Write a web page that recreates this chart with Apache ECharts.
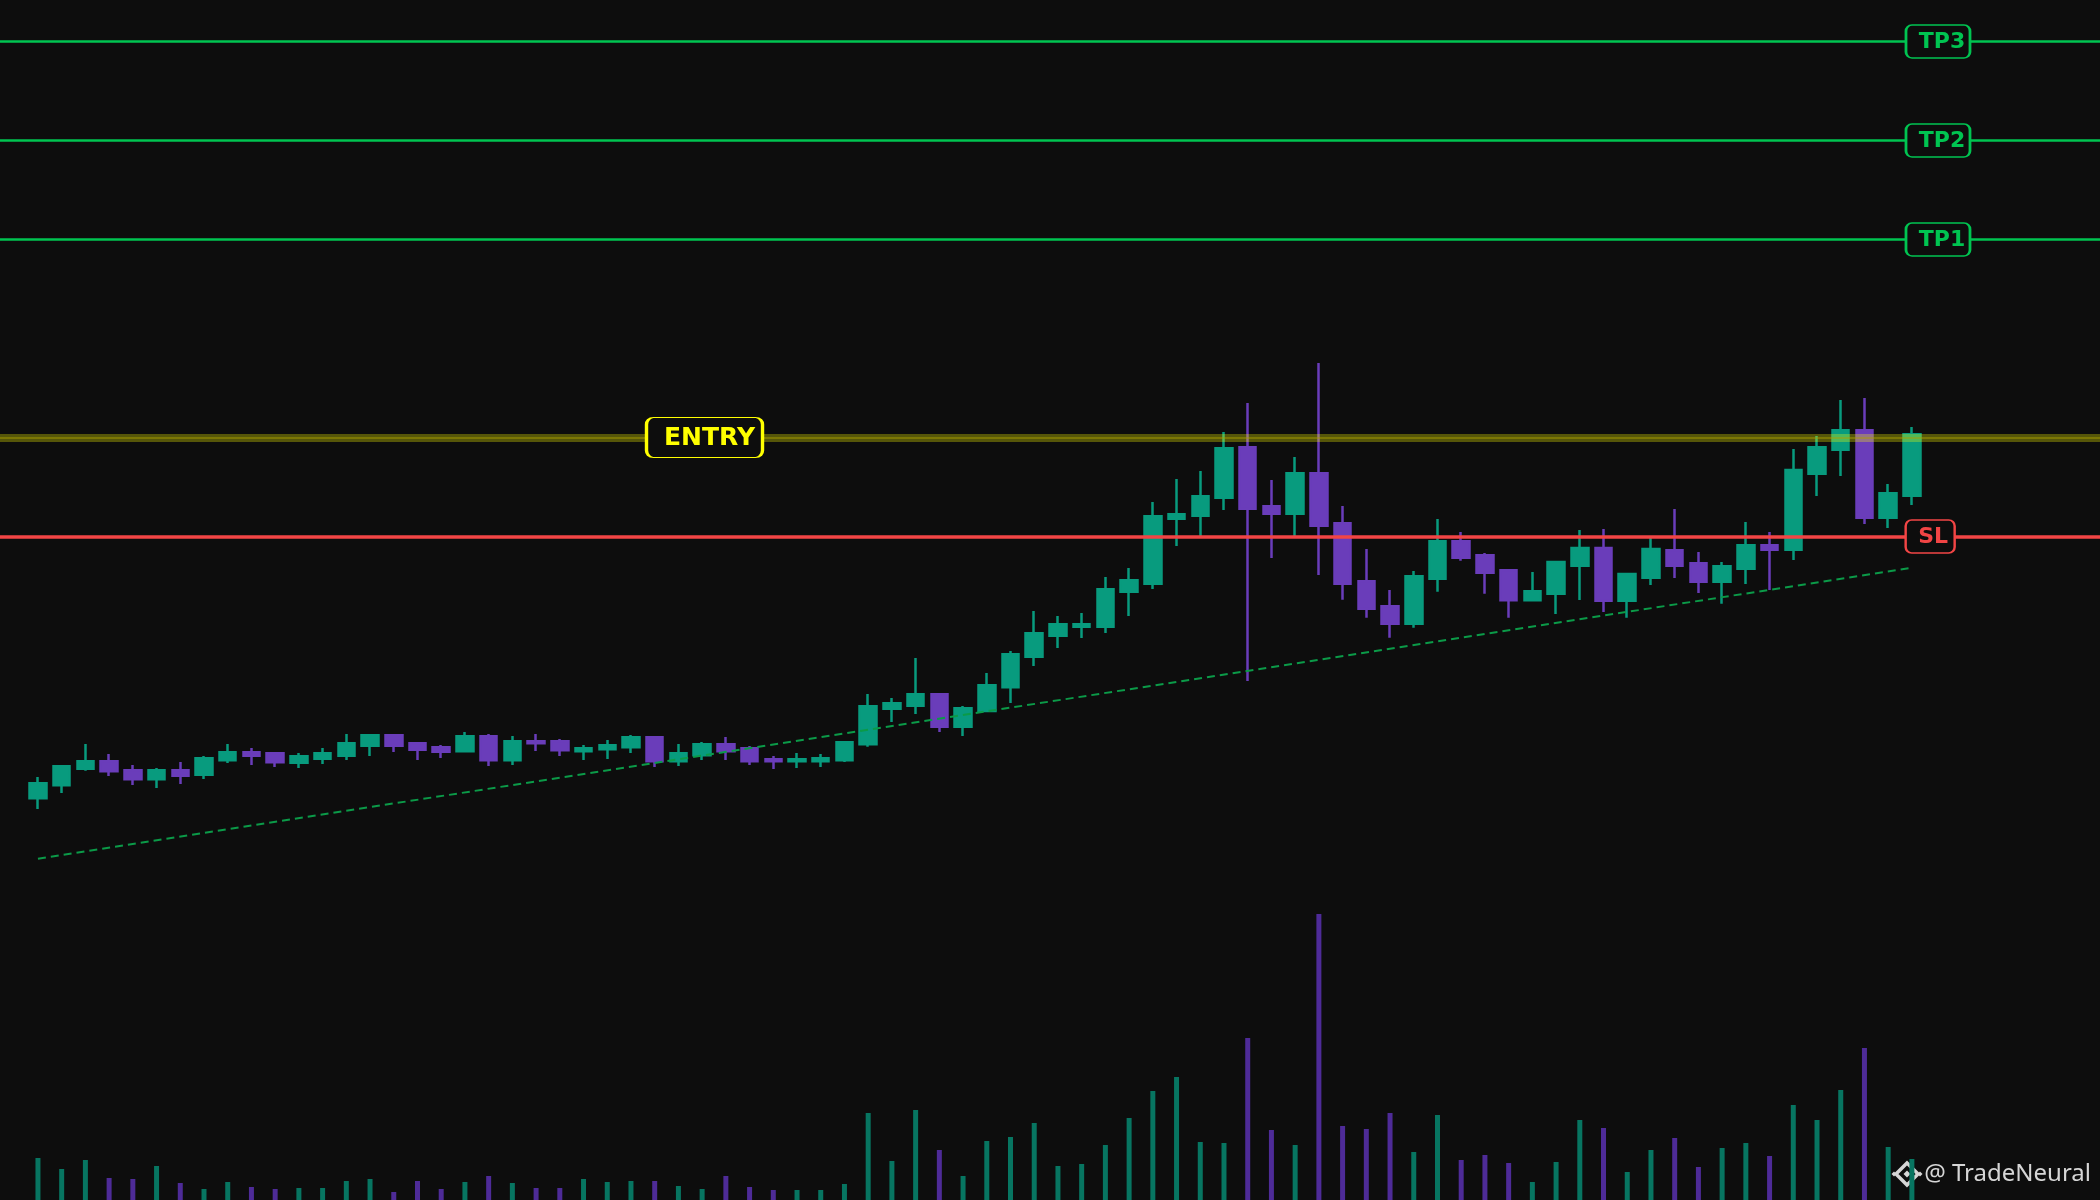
<!DOCTYPE html>
<html>
<head>
<meta charset="utf-8">
<script src="https://cdn.jsdelivr.net/npm/echarts@6/dist/echarts.min.js"></script>
<style>
html, body { margin: 0; padding: 0; background: #0d0d0d; }
#chart { width: 2100px; height: 1200px; }
</style>
</head>
<body>
<div id="chart"></div>
<script>
/** 数据 */
var opens = [40.17, 41.47, 43.13, 43.87, 42.97, 42.07, 42.97, 42.53, 43.97, 44.77,
    44.67, 43.73, 44.13, 44.43, 45.43, 46.47, 45.67, 45.27, 44.87, 46.37,
    43.97, 45.87, 45.87, 44.87, 45.07, 45.27, 46.27, 43.87, 44.47, 45.57,
    45.17, 44.07, 43.87, 43.87, 43.97, 45.57, 49.13, 49.43, 50.57, 47.33,
    48.90, 51.27, 54.33, 56.43, 57.33, 57.33, 60.83, 61.63, 68.13, 68.43,
    70.23, 75.27, 69.37, 68.63, 72.67, 67.67, 61.87, 59.37, 57.63, 62.13,
    65.87, 64.47, 62.97, 59.97, 60.63, 63.43, 65.20, 59.93, 62.23, 64.97,
    63.67, 61.83, 63.13, 65.47, 65.03, 72.63, 75.03, 76.97, 68.23, 70.43];
var closes = [41.67, 43.37, 43.87, 42.87, 42.07, 42.97, 42.43, 44.17, 44.77, 44.43,
    43.77, 44.37, 44.67, 45.67, 46.47, 45.43, 45.03, 44.83, 46.37, 43.97,
    45.87, 45.67, 44.97, 45.17, 45.47, 46.27, 43.87, 44.67, 45.57, 44.87,
    43.87, 43.87, 44.07, 44.17, 45.77, 49.37, 49.67, 50.57, 47.33, 49.17,
    51.47, 54.57, 56.67, 57.57, 57.57, 61.07, 61.97, 68.37, 68.57, 70.37,
    75.17, 69.13, 68.63, 72.67, 67.43, 61.63, 59.13, 57.63, 62.37, 65.87,
    64.23, 62.73, 59.97, 60.87, 63.80, 65.20, 59.93, 62.60, 65.10, 63.43,
    61.83, 63.37, 65.47, 65.03, 73.00, 75.27, 76.97, 68.23, 70.67, 76.57];
var lows = [39.10, 40.70, 42.93, 42.40, 41.50, 41.20, 41.60, 42.10, 43.70, 43.50,
    43.30, 43.20, 43.60, 44.00, 44.40, 44.80, 44.00, 44.20, 44.80, 43.40,
    43.50, 44.90, 44.40, 44.00, 44.10, 44.70, 43.30, 43.40, 44.00, 44.00,
    43.50, 43.10, 43.20, 43.30, 43.80, 45.33, 47.80, 48.60, 46.80, 46.40,
    48.80, 49.70, 53.40, 55.20, 56.20, 56.70, 58.40, 61.10, 65.40, 66.30,
    69.00, 51.90, 64.20, 66.30, 62.50, 60.03, 58.23, 56.23, 57.23, 60.83,
    63.93, 60.63, 58.23, 59.93, 58.60, 60.00, 58.80, 58.23, 61.50, 62.20,
    60.70, 59.63, 61.60, 61.00, 64.00, 70.40, 72.40, 67.60, 67.20, 69.50];
var highs = [42.30, 43.50, 45.60, 44.60, 43.50, 43.20, 43.80, 44.40, 45.60, 45.20,
    44.80, 44.70, 45.20, 46.60, 46.60, 46.60, 45.80, 45.50, 46.80, 46.60,
    46.40, 46.60, 46.10, 45.50, 46.00, 46.50, 46.40, 45.60, 45.80, 46.30,
    45.40, 44.40, 44.70, 44.60, 45.90, 50.60, 50.20, 54.20, 50.70, 49.40,
    52.70, 54.90, 58.90, 58.40, 58.70, 62.30, 63.20, 69.80, 72.10, 72.90,
    76.80, 79.70, 72.00, 74.30, 83.70, 69.40, 65.10, 61.00, 62.90, 68.10,
    66.80, 64.70, 63.00, 62.80, 63.90, 67.00, 67.10, 62.70, 66.40, 69.10,
    64.80, 63.80, 67.80, 66.80, 75.10, 76.40, 80.00, 80.20, 71.60, 77.30];
var volumes = [42, 31, 40, 22, 21, 34, 17, 11, 18, 13,
    11, 12, 12, 19, 21, 8, 19, 11, 18, 24,
    17, 12, 12, 21, 18, 19, 19, 14, 11, 24,
    13, 10, 10, 10, 16, 87, 39, 90, 50, 24,
    59, 63, 77, 34, 36, 55, 82, 109, 123, 58,
    57, 162, 70, 55, 286, 74, 71, 87, 48, 85,
    40, 45, 37, 18, 38, 80, 72, 28, 50, 62,
    33, 52, 57, 44, 95, 80, 110, 152, 53, 41];

// 交易计划
var entryPrice = 76.25;
var stopPrice = 66.35;
var tpPrices = [96.05, 105.95, 115.85];
var tpNames = ['TP1', 'TP2', 'TP3'];
// 趋势线 [index, price]
var trendStart = [0, 34.13];
var trendEnd = [79, 63.23];

/** 颜色 */
var UP = '#089b7e', DOWN = '#6a3dba';
var VOL_UP = '#077561', VOL_DOWN = '#4e2b98';
var GREEN = '#00c451', RED = '#f24545', YELLOW = '#ffff00', BG = '#0d0d0d';

// 圆角框 (w x h, 圆角 r)
function roundBox(w, h, r) {
    return 'path://M' + r + ',0 H' + (w - r) + ' A' + r + ',' + r + ' 0 0 1 ' + w + ',' + r +
        ' V' + (h - r) + ' A' + r + ',' + r + ' 0 0 1 ' + (w - r) + ',' + h +
        ' H' + r + ' A' + r + ',' + r + ' 0 0 1 0,' + (h - r) +
        ' V' + r + ' A' + r + ',' + r + ' 0 0 1 ' + r + ',0 Z';
}

var candleData = [];
var volumeData = [];
for (let i = 0; i < opens.length; i++) {
    candleData.push([i, opens[i], closes[i], lows[i], highs[i]]);
    volumeData.push({
        value: [i, volumes[i]],
        itemStyle: {color: closes[i] >= opens[i] ? VOL_UP : VOL_DOWN}
    });
}

var levelLines = [];
for (let i = 0; i < tpPrices.length; i++) {
    levelLines.push({yAxis: tpPrices[i], lineStyle: {color: GREEN, width: 2.5, type: 'solid'}});
}
levelLines.push({yAxis: entryPrice, lineStyle: {color: 'rgba(255,255,0,0.3)', width: 8, type: 'solid'}});
levelLines.push({yAxis: entryPrice, lineStyle: {color: 'rgba(170,160,0,0.45)', width: 2, type: 'solid'}});
levelLines.push({yAxis: stopPrice, lineStyle: {color: RED, width: 3.5, type: 'solid'}});

// 标签框
var tagX = 80.1;
var labelData = [];
for (let i = 0; i < tpPrices.length; i++) {
    labelData.push({
        name: tpNames[i], value: [tagX, tpPrices[i]],
        symbol: roundBox(64, 33, 6), symbolSize: [64, 33],
        itemStyle: {borderColor: GREEN},
        label: {color: GREEN, fontSize: 22, offset: [4, 1]}
    });
}
labelData.push({
    name: 'SL', value: [79.77, stopPrice],
    symbol: roundBox(49, 33, 6), symbolSize: [49, 33],
    itemStyle: {borderColor: RED},
    label: {color: RED, fontSize: 22, offset: [3, 1]}
});
labelData.push({
    name: 'ENTRY', value: [28.1, entryPrice],
    symbol: roundBox(116, 40, 7), symbolSize: [116, 40],
    itemStyle: {borderColor: YELLOW},
    label: {color: YELLOW, fontSize: 25, offset: [5, 1]}
});

var chart = echarts.init(document.getElementById('chart'));
chart.setOption({
    backgroundColor: BG,
    animation: false,
    grid: {left: 0, right: 0, top: 0, bottom: 0},
    xAxis: {type: 'value', min: -1.6, max: 86.93, show: false},
    yAxis: [
        {type: 'value', min: 0, max: 120, show: false},
        {type: 'value', min: 0, max: 1200, show: false}
    ],
    series: [{
        name: 'volume',
        type: 'bar',
        yAxisIndex: 1,
        barWidth: 5,
        z: 1,
        data: volumeData
    }, {
        name: 'price',
        type: 'candlestick',
        barWidth: 17,
        z: 2,
        encode: {x: 0, y: [1, 2, 3, 4]},
        itemStyle: {
            color: UP,
            color0: DOWN,
            borderColor: UP,
            borderColor0: DOWN,
            borderWidth: 2.5
        },
        data: candleData
    }, {
        name: 'trend',
        type: 'line',
        z: 3,
        symbol: 'none',
        lineStyle: {color: '#0b9a48', width: 2, type: [8, 5]},
        data: [trendStart, trendEnd],
        markLine: {
            silent: true,
            symbol: ['none', 'none'],
            label: {show: false},
            data: levelLines
        }
    }, {
        name: 'tags',
        type: 'scatter',
        z: 5,
        itemStyle: {color: BG, borderWidth: 2, opacity: 1},
        label: {
            show: true,
            position: 'inside',
            formatter: '{b}',
            fontFamily: 'DejaVu Sans',
            fontWeight: 'bold'
        },
        data: labelData
    }],
    graphic: [{
        type: 'text',
        x: 2091,
        y: 1174,
        z: 100,
        style: {
            text: '@ TradeNeural',
            font: '24px "Noto Sans"',
            fill: '#d6d6d6',
            align: 'right',
            verticalAlign: 'middle'
        }
    }, {
        type: 'group',
        x: 1907,
        y: 1174,
        z: 100,
        children: [{
            type: 'polygon',
            shape: {points: [[0, -11], [11, 0], [0, 11], [-11, 0]]},
            style: {fill: 'none', stroke: '#d6d6d6', lineWidth: 3.5}
        }, {
            type: 'polygon',
            shape: {points: [[0, -3.5], [3.5, 0], [0, 3.5], [-3.5, 0]]},
            style: {fill: '#d6d6d6'}
        }, {
            type: 'polygon',
            shape: {points: [[-13, -2.5], [-10.5, 0], [-13, 2.5], [-15.5, 0]]},
            style: {fill: '#d6d6d6'}
        }, {
            type: 'polygon',
            shape: {points: [[13, -2.5], [15.5, 0], [13, 2.5], [10.5, 0]]},
            style: {fill: '#d6d6d6'}
        }]
    }]
});
</script>
</body>
</html>
